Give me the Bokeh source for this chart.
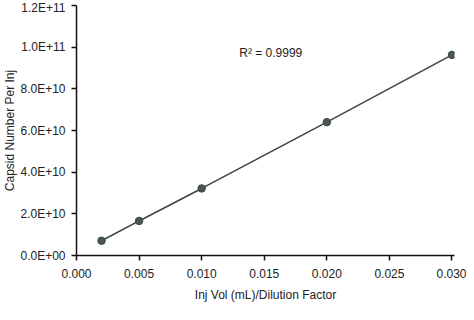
from bokeh.plotting import figure
from bokeh.models import Range1d, FixedTicker, Label
from bokeh.embed import file_html
from bokeh.resources import INLINE

# data
inj_vol = [0.002, 0.005, 0.010, 0.020, 0.030]
capsids = [7.1e9, 1.66e10, 3.22e10, 6.40e10, 9.63e10]

x_ticks = [0.000, 0.005, 0.010, 0.015, 0.020, 0.025, 0.030]
x_tick_labels = ["0.000", "0.005", "0.010", "0.015", "0.020", "0.025", "0.030"]
y_ticks = [0, 2e10, 4e10, 6e10, 8e10, 1e11, 1.2e11]
y_tick_labels = ["0.0E+00", "2.0E+10", "4.0E+10", "6.0E+10", "8.0E+10", "1.0E+11", "1.2E+11"]

r2_text = "R\u00b2 = 0.9999"
r2_pos = (0.013, 9.72e10)

FONT = "Liberation Sans"

p = figure(width=466, height=304, output_backend="svg", toolbar_location=None,
           x_range=Range1d(0, 0.0302), y_range=Range1d(0, 1.2e11),
           min_border_left=10, min_border_right=12, min_border_top=5, min_border_bottom=10)
p.outline_line_color = None
p.xgrid.visible = False
p.ygrid.visible = False

p.line(inj_vol, capsids, line_color="#3b4646", line_width=1.6)
p.scatter(inj_vol, capsids, size=7.5, fill_color="#4a5656", line_color="#3b4646")

p.xaxis.ticker = FixedTicker(ticks=x_ticks)
p.xaxis.major_label_overrides = {t: l for t, l in zip(x_ticks, x_tick_labels)}
p.yaxis.ticker = FixedTicker(ticks=y_ticks)
p.yaxis.major_label_overrides = {t: l for t, l in zip(y_ticks, y_tick_labels)}

p.xaxis.axis_label = "Inj Vol (mL)/Dilution Factor"
p.yaxis.axis_label = "Capsid Number Per Inj"

for ax in (p.xaxis, p.yaxis):
    ax.axis_line_color = "#111111"
    ax.axis_line_width = 1.5
    ax.major_tick_line_color = "#111111"
    ax.major_tick_line_width = 1.5
    ax.major_tick_out = 5
    ax.major_tick_in = 0
    ax.minor_tick_line_color = None
    ax.major_label_text_font = FONT
    ax.major_label_text_font_size = "12px"
    ax.major_label_text_color = "#222222"
    ax.major_label_standoff = 6
    ax.axis_label_text_font = FONT
    ax.axis_label_text_font_size = "12px"
    ax.axis_label_text_font_style = "normal"
    ax.axis_label_text_color = "#222222"

p.xaxis.major_label_standoff = 8
p.xaxis.axis_label_standoff = 7
p.yaxis.axis_label_standoff = 0

p.add_layout(Label(x=r2_pos[0], y=r2_pos[1], text=r2_text, text_font=FONT,
                   text_font_size="12px", text_color="#222222",
                   text_baseline="middle", text_align="left"))

open("out.html", "w").write(file_html(p, INLINE))
